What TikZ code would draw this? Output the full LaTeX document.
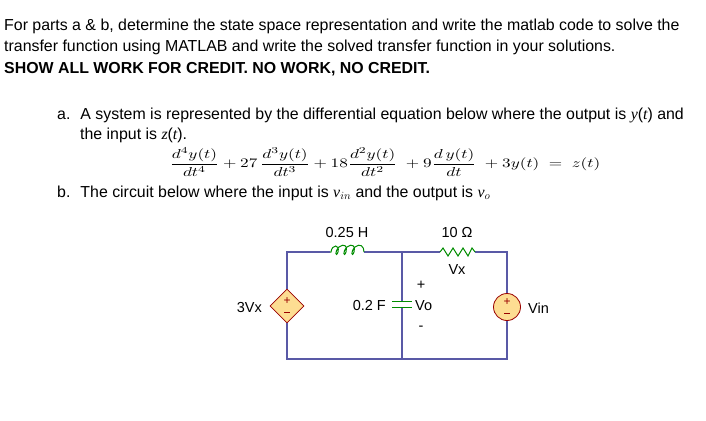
\documentclass[tikz,border=0pt]{standalone}
\usepackage{fontspec}
\setmainfont{Liberation Sans}
\newfontfamily\serif{Liberation Serif}
\usetikzlibrary{shapes.geometric}
\begin{document}
\begin{tikzpicture}[x=1pt,y=-1pt,
  txt/.style={anchor=base west,inner sep=0,font=\fontsize{15.9}{18}\selectfont},
  ctxt/.style={inner sep=0,font=\fontsize{14.5}{16}\selectfont},
  wire/.style={draw=gray!70!blue,line width=1.3pt},
  comp/.style={draw=green!55!black,line width=1pt}]
\useasboundingbox (0,0) rectangle (706,420);
\node[txt] (l1) at (4,31) {For parts a \& b, determine the state space representation and write the matlab code to solve the};
\node[txt] (l2) at (4,52) {transfer function using MATLAB and write the solved transfer function in your solutions.};
\node[txt,font=\fontsize{15.9}{18}\selectfont\bfseries] (l3) at (4,74) {SHOW ALL WORK FOR CREDIT. NO WORK, NO CREDIT.};
\node[txt] (a1) at (57,119) {a.\hspace{10pt}A system is represented by the differential equation below where the output is {\serif\itshape y}({\serif\itshape t}) and};
\node[txt] (a2) at (80,139) {the input is {\serif\itshape z}({\serif\itshape t}).};
\node[inner sep=0,xscale=1.72,yscale=1.3] (eq) at (385,162) {$\displaystyle \frac{d^4y(t)}{dt^4}+27\,\frac{d^3y(t)}{dt^3}+18\frac{d^2y(t)}{dt^2}\;+9\frac{d\,y(t)}{dt}\;+3y(t)\;=\;z(t)$};
\node[txt] (b1) at (57,197) {b.\hspace{10pt}The circuit below where the input is {\serif\itshape v}$_{in}$ and the output is {\serif\itshape v}$_o$};
% circuit
\coordinate (TL) at (287,252); \coordinate (TM) at (402,252); \coordinate (TR) at (507,252);
\coordinate (BL) at (287,359); \coordinate (BM) at (402,359); \coordinate (BR) at (507,359);
\node[diamond,draw=red!60!black,fill=yellow!40!orange!40,line width=0.8pt,minimum size=34pt,inner sep=0] (dep) at (287,306) {};
\node[circle,draw=red!60!black,fill=yellow!40!orange!40,line width=0.8pt,minimum size=27pt,inner sep=0] (vin) at (507,307) {};
\node[ctxt,font=\fontsize{12}{12}\selectfont,text=red!60!black] at (287,301) {+};
\draw[line width=0.8pt,red!60!black] (284,312)--(290,312);
\node[ctxt,font=\fontsize{12}{12}\selectfont,text=red!60!black] at (507,302) {+};
\draw[line width=0.8pt,red!60!black] (504,313)--(510,313);
\coordinate (L1) at (330,252); \coordinate (L2) at (364,252);
\coordinate (R1) at (440,252); \coordinate (R2) at (475,252);
\coordinate (C1) at (402,301); \coordinate (C2) at (402,307);
\draw[wire] (dep.north)--(TL)--(L1) (L2)--(TM)--(R1) (R2)--(TR)--(vin.north)
  (vin.south)--(BR)--(BM)--(BL)--(dep.south) (TM)--(C1) (C2)--(BM);
\draw[comp] (L1) -- (331,252) .. controls (332,244) and (340,244) .. (338,252) .. controls (336,258) and (334,252) .. (339,247)
 .. controls (344,243) and (348,246) .. (346,252) .. controls (344,258) and (342,252) .. (347,247)
 .. controls (352,243) and (356,246) .. (354,252) .. controls (352,258) and (350,252) .. (355,247)
 .. controls (360,243) and (364,246) .. (L2);
\draw[comp] (R1)--(443,248)--(448,256)--(453,248)--(458,256)--(463,248)--(468,256)--(472,248)--(R2);
\draw[comp] (392,301)--(412,301) (392,307)--(412,307);
\node[ctxt] (lL) at (347,233) {0.25 H};
\node[ctxt] (lR) at (457,233) {10 Ω};
\node[ctxt] (vx) at (457,270) {Vx};
\node[ctxt,anchor=east] (l3v) at (262,308) {3Vx};
\node[ctxt,anchor=east] (lC) at (386,306) {0.2 F};
\node[ctxt,anchor=west] (vo) at (415,306) {Vo};
\node[ctxt] (vp) at (421,285) {+};
\node[ctxt] (vm) at (421,328) {-};
\node[ctxt,anchor=west] (lvin) at (528,308) {Vin};
\end{tikzpicture}
\end{document}
